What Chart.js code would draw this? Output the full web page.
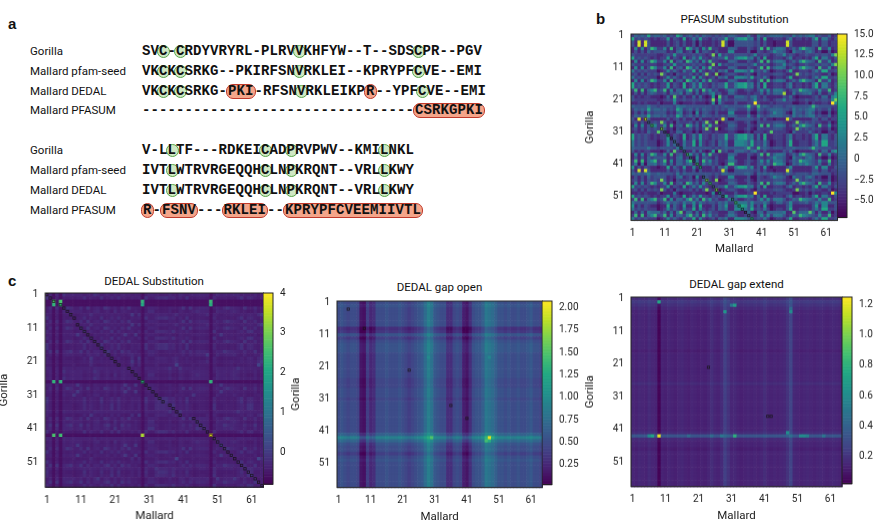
<!DOCTYPE html>
<html>
<head>
<meta charset="UTF-8">
<script src="https://cdn.jsdelivr.net/npm/chart.js"></script>
<style>
  body { margin: 0; background: #fff; font-family: Roboto, 'Noto Sans', sans-serif; color: #111; }
  #page { position: relative; width: 894px; height: 521px; overflow: hidden; }
  .abs { position: absolute; }
  .plabel { position: absolute; font-weight: bold; font-size: 15px; font-family: 'Liberation Sans', sans-serif; }
  .rowname { position: absolute; left: 30px; font-size: 11.5px; line-height: 14px; }
  .seq { position: absolute; left: 142px; font-family: 'Liberation Mono', monospace; font-weight: bold; font-size: 14px; line-height: 16px; white-space: nowrap; z-index: 1; }
  .ch { display: inline-block; width: 8.5px; text-align: center; position: relative; }
  .circ::before { content: ''; position: absolute; left: -2px; top: 1.5px; width: 11px; height: 11px; border: 1px solid #5aa64a; background: #cfe8c4; border-radius: 50%; z-index: -1; }
  .box { display: inline-block; border: 1px solid #c0392b; background: #f4a58a; border-radius: 7px; line-height: 13px; margin: 0 -1px; padding: 0 1px; }
  .ttl { position: absolute; font-size: 11.5px; text-align: center; }
</style>
</head>
<body>
<div id="page">
  <div class="plabel" style="left:8px;top:15px">a</div>
  <div class="plabel" style="left:596px;top:10px">b</div>
  <div class="plabel" style="left:8px;top:272px">c</div>
  <div id="alignment"></div>
  <div class="ttl" style="left:632px;top:12px;width:205px">PFASUM substitution</div>
  <div class="ttl" style="left:45px;top:274px;width:218px">DEDAL Substitution</div>
  <div class="ttl" style="left:337px;top:280px;width:205px">DEDAL gap open</div>
  <div class="ttl" style="left:631px;top:277px;width:211px">DEDAL gap extend</div>
</div>
<script>
// ---- sequences / alignments (panel a) ----
const rowNames = ['Gorilla', 'Mallard pfam-seed', 'Mallard DEDAL', 'Mallard PFASUM'];
const block1 = [
  'SVC-CRDYVRYRL-PLRVVKHFYW--T--SDSCPR--PGV',
  'VKCKCSRKG--PKIRFSNVRKLEI--KPRYPFCVE--EMI',
  'VKCKCSRKG-PKI-RFSNVRKLEIKPR--YPFCVE--EMI',
  '--------------------------------CSRKGPKI'
];
const block2 = [
  'V-LLTF---RDKEICADPRVPWV--KMILNKL',
  'IVTLWTRVRGEQQHCLNPKRQNT--VRLLKWY',
  'IVTLWTRVRGEQQHCLNPKRQNT--VRLLKWY',
  'R-FSNV---RKLEI--KPRYPFCVEEMIIVTL'
];
// circled columns (1-based) per row, red boxed runs [start,end]
const circ1 = [[3, 5, 19, 33], [3, 5, 19, 33], [3, 5, 19, 33], []];
const box1 = [[], [], [[11, 13], [27, 27]], [[33, 40]]];
const circ2 = [[4, 15, 18, 29], [4, 15, 18, 29], [4, 15, 18, 29], []];
const box2 = [[], [], [], [[1, 1], [3, 6], [10, 14], [17, 32]]];
const blockY = [[43, 63, 83, 102], [142, 162, 182, 202]];

// ---- heatmap data ----
const gorillaSeq = 'SVCCRDYVRYRLPLRVVKHFYWTSDSCPRPGVVLLTFRDKEICADPRVPWVKMILNKL';
const mallardSeq = 'VKCKCSRKGPKIRFSNVRKLEIKPRYPFCVEEMIIVTLWTRVRGEQQHCLNPKRQNTVRLLKWY';
const pfasumMallardStart = 5;
const aaOrder = 'ARNDCQEGHILKMFPSTWYV';
const subMatrix = [
  [4,-1,-2,-2,0,-1,-1,0,-2,-1,-1,-1,-1,-2,-1,1,0,-3,-2,0],
  [-1,5,0,-2,-3,1,0,-2,0,-3,-2,2,-1,-3,-2,-1,-1,-3,-2,-3],
  [-2,0,6,1,-3,0,0,0,1,-3,-3,0,-2,-3,-2,1,0,-4,-2,-3],
  [-2,-2,1,6,-3,0,2,-1,-1,-3,-4,-1,-3,-3,-1,0,-1,-4,-3,-3],
  [0,-3,-3,-3,9,-3,-4,-3,-3,-1,-1,-3,-1,-2,-3,-1,-1,-2,-2,-1],
  [-1,1,0,0,-3,5,2,-2,0,-3,-2,1,0,-3,-1,0,-1,-2,-1,-2],
  [-1,0,0,2,-4,2,5,-2,0,-3,-3,1,-2,-3,-1,0,-1,-3,-2,-2],
  [0,-2,0,-1,-3,-2,-2,6,-2,-4,-4,-2,-3,-3,-2,0,-2,-2,-3,-3],
  [-2,0,1,-1,-3,0,0,-2,8,-3,-3,-1,-2,-1,-2,-1,-2,-2,2,-3],
  [-1,-3,-3,-3,-1,-3,-3,-4,-3,4,2,-3,1,0,-3,-2,-1,-3,-1,3],
  [-1,-2,-3,-4,-1,-2,-3,-4,-3,2,4,-2,2,0,-3,-2,-1,-2,-1,1],
  [-1,2,0,-1,-3,1,1,-2,-1,-3,-2,5,-1,-3,-1,0,-1,-3,-2,-2],
  [-1,-1,-2,-3,-1,0,-2,-3,-2,1,2,-1,5,0,-2,-1,-1,-1,-1,1],
  [-2,-3,-3,-3,-2,-3,-3,-3,-1,0,0,-3,0,6,-4,-2,-2,1,3,-1],
  [-1,-2,-2,-1,-3,-1,-1,-2,-2,-3,-3,-1,-2,-4,7,-1,-1,-4,-3,-2],
  [1,-1,1,0,-1,0,0,0,-1,-2,-2,0,-1,-2,-1,4,1,-3,-2,-2],
  [0,-1,0,-1,-1,-1,-1,-2,-2,-1,-1,-1,-1,-2,-1,1,5,-2,-2,0],
  [-3,-3,-4,-4,-2,-2,-3,-2,-2,-3,-2,-3,-1,1,-4,-3,-2,11,2,-3],
  [-2,-2,-2,-3,-2,-1,-2,-3,2,-1,-1,-2,-1,3,-3,-2,-2,2,7,-1],
  [0,-3,-3,-3,-1,-2,-2,-3,-3,3,1,-2,1,-1,-2,-2,0,-3,-1,4]
];
const pfasumScale = 1.5;
// DEDAL substitution: cys-cys cells [mallard, gorilla, value]
const dedalCys = [[3,3,2.6],[5,3,2.6],[3,4,2.3],[5,4,2.3],[29,3,2.3],[29,4,2.1],[49,3,2.4],[49,4,2.2],
  [3,27,2.3],[5,27,2.3],[29,27,2.2],[49,27,2.3],[3,43,2.6],[5,43,2.5],[29,43,3.4],[49,43,3.9]];
// DEDAL gap open: per-column level, per-row offset, hot cells
const goCols = [0.5,0.55,0.5,0.45,0.5,0.5,0.45,0.15,0.12,0.4,0.25,0.3,0.5,0.5,0.5,0.55,0.5,0.5,0.5,0.55,
  0.5,0.45,0.4,0.45,0.5,0.55,0.6,0.75,0.9,0.8,0.6,0.55,0.5,0.5,0.3,0.3,0.45,0.5,0.45,0.2,
  0.15,0.3,0.5,0.55,0.55,0.65,0.85,0.8,0.75,0.65,0.55,0.55,0.5,0.55,0.5,0.5,0.55,0.5,0.5,0.55,
  0.6,0.5,0.5,0.45];
const goRows = [0,0.05,0,0,0,0,0,0,-0.2,-0.15,0.05,-0.1,0,0.05,0.05,0.05,0,0,0,0,
  0,0,0,0,-0.05,-0.05,-0.05,0,0,0,-0.05,0,0,0,0,0,0,0,0,0,
  0,0.15,0.4,0.2,0.05,0,0,-0.1,0,0.05,0,0,0,0,0,0,0,0];
const goHot = [[48,43,2.0],[30,43,1.5],[47,44,1.45],[49,43,1.3],[29,43,1.3],[47,43,1.35],[48,44,1.3],[29,18,1.0],[48,18,0.95]];
const goPath = [[4,3],[9,9],[23,22],[36,33],[41,37]];
// DEDAL gap extend
const geCols = [0.15,0.14,0.16,0.15,0.14,0.17,0.15,0.14,0.03,0.14,0.13,0.15,0.14,0.13,0.15,0.16,0.14,0.13,0.15,0.14,
  0.13,0.14,0.13,0.15,0.18,0.15,0.14,0.17,0.25,0.2,0.15,0.16,0.14,0.13,0.14,0.15,0.14,0.15,0.14,0.15,
  0.18,0.15,0.14,0.15,0.14,0.15,0.16,0.2,0.27,0.16,0.15,0.14,0.15,0.16,0.15,0.14,0.15,0.16,0.15,0.14,
  0.15,0.16,0.15,0.14];
const geRows = [0.03,0.08,0.05,0.02,0,0,0,0,0,0,0,0,0,0,0,0,-0.02,0,0,0,
  0,0,0,0,0,0,0.03,0,0,0,0,0,0,0,0,0,0,0,0,0,
  0,0.03,0.2,0.02,0,0,-0.02,0,0,0,0,0,0,0,0,0,0,0];
const geHot = [[9,43,1.2],[9,2,0.75],[32,3,0.7],[31,3,0.5],[29,5,0.65],[49,5,0.6],[49,4,0.45],[32,43,0.8],
  [7,43,0.72],[6,43,0.6],[48,42,0.62],[52,43,0.6],[53,43,0.6],[54,43,0.55],[59,43,0.5],[28,43,0.5],[25,43,0.45],[18,43,0.45]];
const gePath = [[24,22],[42,37],[43,37]];
const heatTicks = { x: [1, 11, 21, 31, 41, 51, 61], y: [1, 11, 21, 31, 41, 51] };

// ---- panel a ----
const alignDiv = document.getElementById('alignment');
function seqHtml(s, circ, boxes) {
  let html = '';
  let i = 0;
  while (i < s.length) {
    const col = i + 1;
    const b = boxes.find(r => r[0] === col);
    if (b) {
      html += '<span class="box">';
      for (let k = b[0]; k <= b[1]; k++) html += '<span class="ch">' + s[k - 1] + '</span>';
      html += '</span>';
      i = b[1];
      continue;
    }
    html += '<span class="ch' + (circ.includes(col) ? ' circ' : '') + '">' + s[i] + '</span>';
    i++;
  }
  return html;
}
[block1, block2].forEach((blk, bi) => {
  blk.forEach((s, r) => {
    const y = blockY[bi][r];
    alignDiv.innerHTML += '<div class="rowname" style="top:' + (y + 1) + 'px">' + rowNames[r] + '</div>';
    const circ = bi === 0 ? circ1[r] : circ2[r];
    const boxes = bi === 0 ? box1[r] : box2[r];
    alignDiv.innerHTML += '<div class="seq" style="top:' + y + 'px">' + seqHtml(s, circ, boxes) + '</div>';
  });
});

// ---- helpers ----
const viridis = ['#440154','#482475','#414487','#355f8d','#2a788e','#21918c','#22a884','#44bf70','#7ad151','#bddf26','#fde725'];
function hex(c) { return [1, 3, 5].map(k => parseInt(c.substr(k, 2), 16)); }
function cmap(t) {
  t = Math.max(0, Math.min(1, t)) * 10;
  const i = Math.min(9, Math.floor(t)), f = t - i;
  const a = hex(viridis[i]), b = hex(viridis[i + 1]);
  return 'rgb(' + a.map((v, k) => Math.round(v + (b[k] - v) * f)).join(',') + ')';
}
function alignPairs(g, m, mStart) {
  const pairs = [];
  let gi = 1, mi = mStart;
  for (let k = 0; k < g.length; k++) {
    const a = g[k] !== '-', b = m[k] !== '-';
    if (a && b) pairs.push([mi, gi]);
    if (a) gi++;
    if (b) mi++;
  }
  return pairs;
}
const sub = (a, b) => subMatrix[aaOrder.indexOf(a)][aaOrder.indexOf(b)];

function buildGrid(fn) {
  const cells = [];
  for (let i = 1; i <= gorillaSeq.length; i++)
    for (let j = 1; j <= mallardSeq.length; j++) cells.push({ x: j, y: i, v: fn(i, j) });
  return cells;
}
function withHot(cells, hot) {
  hot.forEach(h => { const c = cells.find(c => c.x === h[0] && c.y === h[1]); if (c) c.v = h[2]; });
  return cells;
}

const heatPlugin = {
  id: 'heat',
  beforeDatasetsDraw(chart) {
    const o = chart.options.plugins.heat;
    const { ctx, scales: { x, y } } = chart;
    o.cells.forEach(c => {
      const x0 = x.getPixelForValue(c.x - 0.5), x1 = x.getPixelForValue(c.x + 0.5);
      const y0 = y.getPixelForValue(c.y - 0.5), y1 = y.getPixelForValue(c.y + 0.5);
      ctx.fillStyle = cmap((c.v - o.vmin) / (o.vmax - o.vmin));
      ctx.fillRect(x0, y0, x1 - x0 + 0.6, y1 - y0 + 0.6);
    });
    ctx.strokeStyle = 'rgba(20,20,20,0.85)';
    ctx.lineWidth = 0.8;
    o.path.forEach(p => {
      const x0 = x.getPixelForValue(p[0] - 0.5), x1 = x.getPixelForValue(p[0] + 0.5);
      const y0 = y.getPixelForValue(p[1] - 0.5), y1 = y.getPixelForValue(p[1] + 0.5);
      ctx.strokeRect(x0 + 0.5, y0 + 0.5, x1 - x0 - 1, y1 - y0 - 1);
    });
    const a = chart.chartArea;
    ctx.strokeStyle = '#222';
    ctx.lineWidth = 1;
    ctx.strokeRect(a.left, a.top, a.right - a.left, a.bottom - a.top);
  }
};
const barPlugin = {
  id: 'cbar',
  beforeDatasetsDraw(chart) {
    const { ctx, chartArea: a, scales: { y } } = chart;
    const o = chart.options.plugins.cbar;
    const n = 120;
    for (let k = 0; k < n; k++) {
      const v0 = o.vmin + (o.vmax - o.vmin) * k / n, v1 = o.vmin + (o.vmax - o.vmin) * (k + 1) / n;
      ctx.fillStyle = cmap((k + 0.5) / n);
      const p0 = y.getPixelForValue(v0), p1 = y.getPixelForValue(v1);
      ctx.fillRect(a.left, p1, a.right - a.left, p0 - p1 + 0.6);
    }
    ctx.strokeStyle = '#222';
    ctx.lineWidth = 1;
    ctx.strokeRect(a.left, a.top, a.right - a.left, a.bottom - a.top);
  }
};

const tickFont = { family: 'Roboto', size: 10 };
function addCanvas(left, top, w, h) {
  const d = document.createElement('div');
  d.className = 'abs';
  d.style.cssText = 'left:' + left + 'px;top:' + top + 'px;width:' + w + 'px;height:' + h + 'px';
  const c = document.createElement('canvas');
  d.appendChild(c);
  document.getElementById('page').appendChild(d);
  return c;
}
function makeHeat(box, cells, path, vmin, vmax, cbTicks, cbFmt) {
  const [l, t, r, b] = box;
  const yw = 52, xh = 40, pad = 6;
  const cv = addCanvas(l - yw, t - pad, (r - l) + yw + 1, (b - t) + pad + xh);
  new Chart(cv, {
    type: 'scatter',
    data: { datasets: [{ data: [], pointRadius: 0 }] },
    options: {
      responsive: true, maintainAspectRatio: false, animation: false,
      layout: { padding: { top: pad, right: 1, left: 0, bottom: 0 } },
      plugins: { legend: { display: false }, tooltip: { enabled: false },
        heat: { cells, path, vmin, vmax } },
      scales: {
        x: { type: 'linear', min: 0.5, max: mallardSeq.length + 0.5,
          afterBuildTicks: s => { s.ticks = heatTicks.x.map(v => ({ value: v })); },
          afterFit: s => { s.height = xh; },
          grid: { display: false, drawTicks: true, tickLength: 4, tickColor: '#222' },
          border: { display: false },
          ticks: { font: tickFont, color: '#222', maxRotation: 0, autoSkip: false, padding: 3 },
          title: { display: true, text: 'Mallard', font: { family: 'Roboto', size: 11.5 }, color: '#222', padding: { top: 4 } } },
        y: { type: 'linear', reverse: true, min: 0.5, max: gorillaSeq.length + 0.5,
          afterBuildTicks: s => { s.ticks = heatTicks.y.map(v => ({ value: v })); },
          afterFit: s => { s.width = yw; },
          grid: { display: false, drawTicks: true, tickLength: 4, tickColor: '#222' },
          border: { display: false },
          ticks: { font: tickFont, color: '#222', autoSkip: false, padding: 3 },
          title: { display: true, text: 'Gorilla', font: { family: 'Roboto', size: 11.5 }, color: '#222', padding: { bottom: 2 } } }
      }
    },
    plugins: [heatPlugin]
  });
  // colour bar
  const cw = 10, lw = 40;
  const cb = addCanvas(r, t - pad, cw + lw, (b - t) + 2 * pad);
  new Chart(cb, {
    type: 'scatter',
    data: { datasets: [{ data: [], pointRadius: 0 }] },
    options: {
      responsive: true, maintainAspectRatio: false, animation: false,
      layout: { padding: { top: pad, bottom: pad, left: 0, right: 0 } },
      plugins: { legend: { display: false }, tooltip: { enabled: false }, cbar: { vmin, vmax } },
      scales: {
        x: { display: false },
        y: { position: 'right', min: vmin, max: vmax,
          afterBuildTicks: s => { s.ticks = cbTicks.map(v => ({ value: v })); },
          afterFit: s => { s.width = lw; },
          grid: { display: false, drawTicks: true, tickLength: 4, tickColor: '#222' },
          border: { display: false },
          ticks: { font: tickFont, color: '#222', padding: 3, callback: cbFmt } }
      }
    },
    plugins: [barPlugin]
  });
}

// PFASUM substitution
const pfCells = buildGrid((i, j) => Math.min(15, pfasumScale * sub(gorillaSeq[i - 1], mallardSeq[j - 1])));
const pfPath = alignPairs(block1[0] + block2[0], block1[3] + block2[3], pfasumMallardStart);
makeHeat([630.5, 31, 837, 219.5], pfCells, pfPath, -7, 15,
  [-5, -2.5, 0, 2.5, 5, 7.5, 10, 12.5, 15], v => v === 0 ? '0' : v.toFixed(1).replace('-', '\u2212'));

// DEDAL substitution
const ddCells = withHot(buildGrid((i, j) => {
  const gc = gorillaSeq[i - 1] === 'C', mc = mallardSeq[j - 1] === 'C';
  if (gc !== mc) return -0.6;
  return -0.3 + 0.04 * sub(gorillaSeq[i - 1], mallardSeq[j - 1]);
}), dedalCys);
const ddPath = alignPairs(block1[0] + block2[0], block1[2] + block2[2], 1);
makeHeat([45.3, 290.3, 263, 487.5], ddCells, ddPath, -0.8, 4, [0, 1, 2, 3, 4], v => String(v));

// DEDAL gap open
const goCells = withHot(buildGrid((i, j) => goCols[j - 1] + goRows[i - 1]), goHot);
makeHeat([336.7, 298.4, 542, 487], goCells, goPath, 0.03, 2.07,
  [0.25, 0.5, 0.75, 1, 1.25, 1.5, 1.75, 2], v => v.toFixed(2));

// DEDAL gap extend
const geCells = withHot(buildGrid((i, j) => geCols[j - 1] + geRows[i - 1]), geHot);
makeHeat([631, 294.3, 842, 486], geCells, gePath, 0.02, 1.25,
  [0.2, 0.4, 0.6, 0.8, 1, 1.2], v => v.toFixed(1));
</script>
</body>
</html>
